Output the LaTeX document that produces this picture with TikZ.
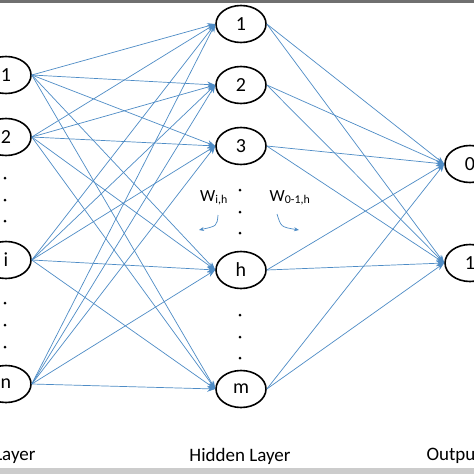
\documentclass[tikz,border=0pt]{standalone}
\usepackage{fontspec}
\setmainfont{Carlito}
\usetikzlibrary{shapes.geometric,arrows.meta}
\definecolor{linkblue}{RGB}{78,140,198}
\definecolor{topbar}{RGB}{112,112,112}
\definecolor{botbar}{RGB}{204,204,204}
\begin{document}
\begin{tikzpicture}[x=1pt,y=-1pt,
  neuron/.style={ellipse,draw=black,line width=1.6pt,minimum width=50pt,minimum height=37pt,inner sep=0pt,fill=white,font=\fontsize{20}{22}\selectfont},
  link/.style={draw=linkblue,line width=0.7pt,-{Stealth[length=8pt,width=6pt]}},
  curvearrow/.style={draw=linkblue,line width=0.7pt,-{Stealth[length=5pt,width=4pt]}},
  dotmark/.style={circle,fill=black,inner sep=0pt,minimum size=3pt},
  layerlabel/.style={font=\fontsize{19}{22}\selectfont},
  weightlabel/.style={font=\fontsize{17}{20}\selectfont}]
\useasboundingbox (0,0) rectangle (474,474);
\clip (0,0) rectangle (474,474);
\fill[white] (0,0) rectangle (474,474);
% input layer
\node[neuron] (i1) at (6,75) {1};
\node[neuron] (i2) at (6,137) {2};
\node[neuron] (ii) at (6,260) {i};
\node[neuron] (in) at (6,384) {n};
% hidden layer
\node[neuron] (h1) at (241,24) {1};
\node[neuron] (h2) at (241,85) {2};
\node[neuron] (h3) at (241,146) {3};
\node[neuron] (hh) at (241,270) {h};
\node[neuron] (hm) at (241,389) {m};
% output layer
\node[neuron] (o0) at (470,164) {0};
\node[neuron] (o1) at (470,263) {1};
% connections
\foreach \a in {i1,i2,ii,in}{
  \foreach \b in {h1,h2,h3,hh,hm}{
    \draw[link] (\a.east) -- (\b.west);
  }
}
\foreach \a in {h1,h2,h3,hh,hm}{
  \foreach \b in {o0,o1}{
    \draw[link] (\a.east) -- (\b.west);
  }
}
% dots
\foreach \y [count=\k] in {178,200,221,303,325,347}{
  \node[dotmark] (di\k) at (5,\y) {};
}
\foreach \y [count=\k] in {190,212,233,315,337,358}{
  \node[dotmark] (dh\k) at (240,\y) {};
}
% weight labels
\node[weightlabel] (wih) at (214,198) {W\textsubscript{i,h}};
\node[weightlabel] (woh) at (290,198) {W\textsubscript{0-1,h}};
\coordinate (c1s) at (218,215);
\coordinate (c1e) at (199,230);
\coordinate (c2s) at (277,214);
\coordinate (c2e) at (299,230);
\draw[curvearrow] (c1s) .. controls (217,226) .. (c1e);
\draw[curvearrow] (c2s) .. controls (281,227) .. (c2e);
% layer labels
\node[layerlabel,anchor=east] (lin) at (39,456) {Input Layer};
\node[layerlabel] (lhid) at (240,456) {Hidden Layer};
\node[layerlabel,anchor=west] (lout) at (423,456) {Output Layer};
% frame bars
\fill[topbar] (0,0) rectangle (474,3);
\fill[botbar] (0,468) rectangle (474,474);
\end{tikzpicture}
\end{document}
